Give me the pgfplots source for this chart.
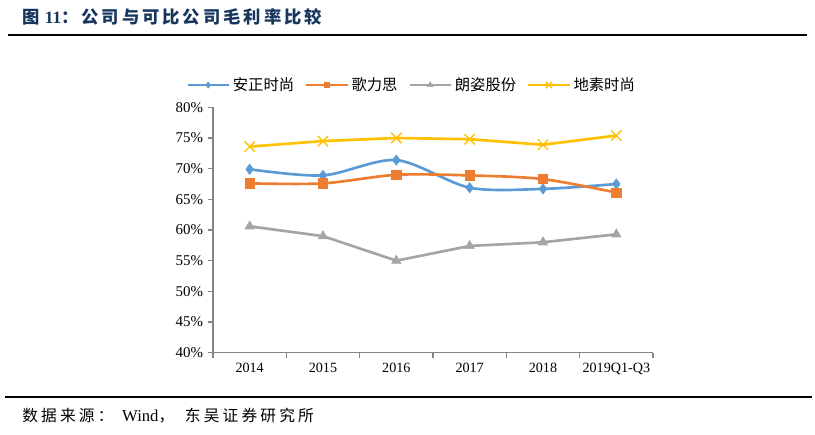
\documentclass[border=0pt]{standalone}
\usepackage{fontspec}
\usepackage{pgfplots}
\pgfplotsset{compat=1.18}
\setmainfont{Liberation Serif}
\newfontfamily\cjk{Noto Sans CJK SC}
\newfontfamily\cjksrc[LetterSpace=20]{Noto Sans CJK SC}
\newfontfamily\cjktitle[LetterSpace=17]{Noto Sans CJK SC}
\definecolor{titleblue}{RGB}{23,54,93}
\definecolor{sblue}{HTML}{5B9BD5}
\definecolor{sorange}{HTML}{ED7D31}
\definecolor{sgray}{HTML}{A5A5A5}
\definecolor{syellow}{HTML}{FFC000}
\definecolor{axgray}{HTML}{868686}
\begin{document}
\begin{tikzpicture}
\path[use as bounding box] (0,0) rectangle (611.25pt,-326.25pt);
\node[anchor=west, text=titleblue, inner sep=0] at (16.5pt,-12.75pt)
  {\fontsize{13}{15}\selectfont\cjktitle\bfseries 图\hspace{4pt}{\rmfamily\bfseries 11}：公司与可比公司毛利率比较};
\draw[line width=1.9pt] (6pt,-26.25pt) -- (605.25pt,-26.25pt);
\draw[line width=1.9pt] (4pt,-297.75pt) -- (609pt,-297.75pt);
\node[anchor=west, inner sep=0] at (16.5pt,-311.8pt)
  {\fontsize{11.8}{13}\selectfont\cjksrc 数据来源：\hspace{6.5pt}{\fontsize{12.5}{13}\selectfont\rmfamily Wind}，\hspace{8pt}东吴证券研究所};
\begin{axis}[
  at={(159.75pt,-264.5pt)}, anchor=south west,
  scale only axis, width=330pt, height=184pt,
  xmin=-0.5, xmax=5.5, ymin=40, ymax=80,
  axis x line=bottom, axis y line=left,
  axis line style={-, draw=axgray, line width=0.8pt},
  xtick={0,1,2,3,4,5},
  xticklabels={2014,2015,2016,2017,2018,2019Q1-Q3},
  minor xtick={-0.5,0.5,1.5,2.5,3.5,4.5,5.5},
  major x tick style={draw=none},
  minor x tick style={draw=axgray, line width=0.8pt},
  minor tick length=4pt,
  ytick={40,45,50,55,60,65,70,75,80},
  yticklabels={40\%,45\%,50\%,55\%,60\%,65\%,70\%,75\%,80\%},
  y tick style={draw=axgray, line width=0.8pt},
  major tick length=4pt,
  tick align=outside,
  x tick label style={font=\fontsize{10.6}{12}\selectfont},
  y tick label style={font=\fontsize{11.2}{12}\selectfont},
  legend columns=4,
  legend cell align=left,
  legend style={at={(0.452,1.091)}, anchor=center, draw=none, fill=none,
    font=\cjk\fontsize{11.5}{13}\selectfont,
    /tikz/every even column/.append style={column sep=6pt}},
  legend image code/.code={\draw[mark repeat=2,mark phase=2,#1,every mark/.append style={scale=0.6}] plot coordinates {(0pt,0pt)(15.5pt,0pt)(31pt,0pt)};},
  clip=false,
]
\addplot[sblue, line width=2pt, smooth, mark=diamond*, mark size=3.8pt, mark options={line width=0.5pt}]
  coordinates {(0,69.9) (1,68.9) (2,71.4) (3,66.9) (4,66.7) (5,67.5)};
\addlegendentry{安正时尚}
\addplot[sorange, line width=2pt, smooth, mark=square*, mark size=3.5pt, mark options={line width=0.5pt}]
  coordinates {(0,67.6) (1,67.6) (2,69.0) (3,68.9) (4,68.3) (5,66.1)};
\addlegendentry{歌力思}
\addplot[sgray, line width=2pt, mark=triangle*, mark size=4pt, mark options={line width=0.5pt}]
  coordinates {(0,60.6) (1,59.0) (2,55.0) (3,57.4) (4,58.0) (5,59.3)};
\addlegendentry{朗姿股份}
\addplot[syellow, line width=2pt, mark=x, mark size=5.5pt, mark options={line width=1pt}]
  coordinates {(0,73.6) (1,74.5) (2,75.0) (3,74.8) (4,73.9) (5,75.4)};
\addlegendentry{地素时尚}
\end{axis}
\end{tikzpicture}
\end{document}
